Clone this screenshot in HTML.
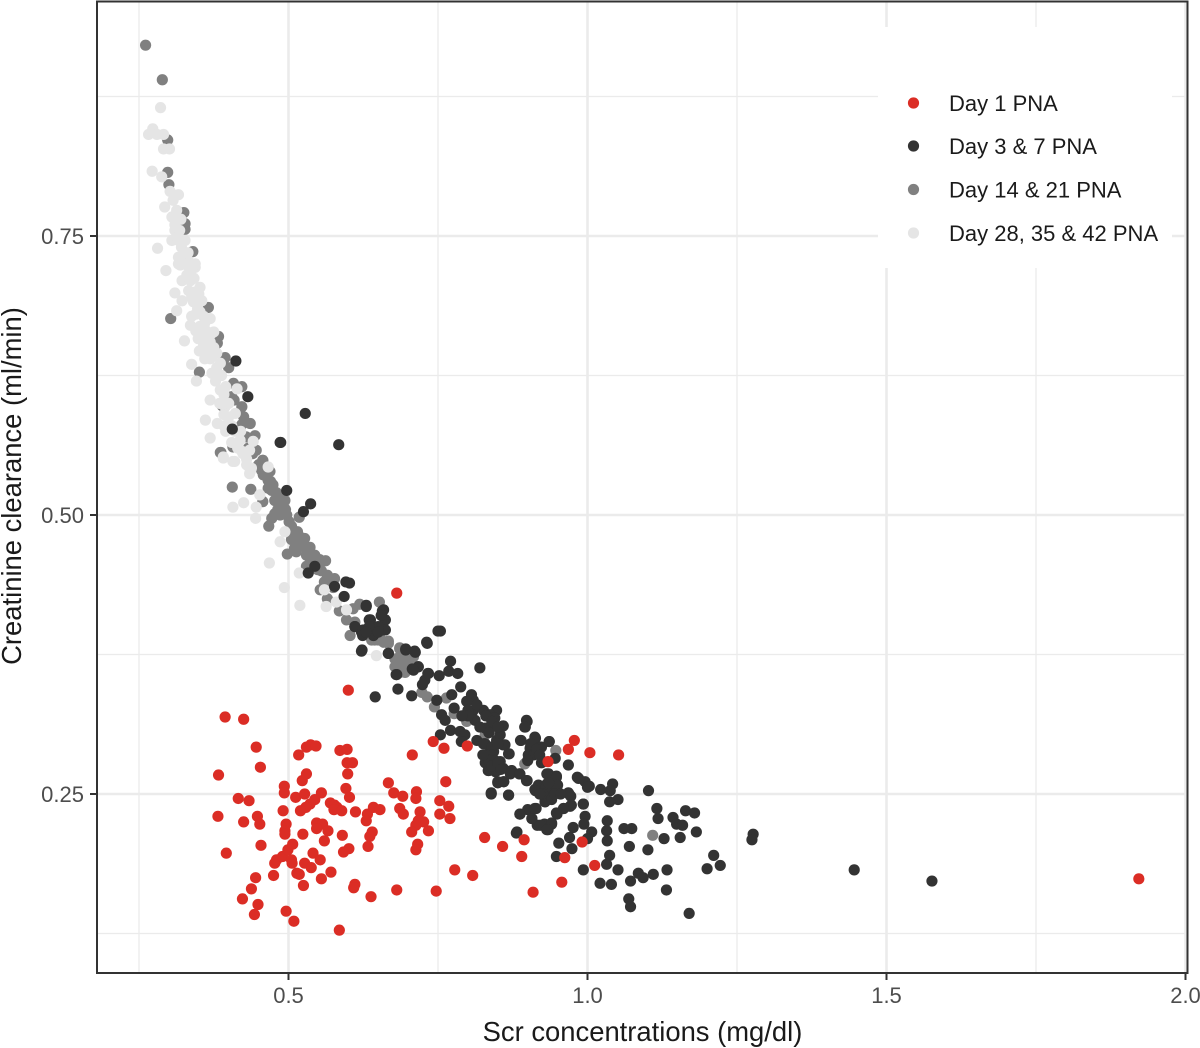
<!DOCTYPE html>
<html>
<head>
<meta charset="utf-8">
<title>Creatinine clearance vs Scr concentrations</title>
<style>
html,body{margin:0;padding:0;background:#fff;width:1200px;height:1048px;overflow:hidden}
svg{display:block}
text{font-family:"Liberation Sans",sans-serif}
</style>
</head>
<body>
<svg id="chart" width="1200" height="1048" viewBox="0 0 1200 1048" xmlns="http://www.w3.org/2000/svg"></svg>
<script>
const xTicks = [0.5, 1.0, 1.5, 2.0];
const xTickLabels = ["0.5", "1.0", "1.5", "2.0"];
const xMinor = [0.25, 0.75, 1.25, 1.75];
const yTicks = [0.25, 0.50, 0.75];
const yTickLabels = ["0.25", "0.50", "0.75"];
const yMinor = [0.125, 0.375, 0.625, 0.875];
const seriesNames = ["Day 1 PNA", "Day 3 & 7 PNA", "Day 14 & 21 PNA", "Day 28, 35 & 42 PNA"];

const day1X = [.394,.425,.446,.453,.383,.416,.434,.382,.448,.425,.452,.454,.396,.445,.438,.423,.449,.443,.496,.509,.585,.475,.477,.480,.490,.499,.507,.505,.506,.514,.518,.527,.538,.525,.541,.553,.571,.555,.611,.609,.638,.681,.747,.778,.808,.496,.494,.494,.524,.491,.493,.493,.512,.527,.555,.544,.536,.529,.520,.523,.530,.517,.530,.537,.546,.586,.598,.598,.607,.599,.596,.602,.570,.577,.581,.576,.589,.612,.632,.642,.653,.630,.547,.557,.547,.566,.560,.590,.640,.636,.633,.601,.592,.667,.676,.691,.686,.692,.714,.713,.720,.717,.726,.713,.706,.734,.716,.713,.753,.768,.753,.770,.763,.707,.742,.760,.799,.681,.600,.978,.968,1.004,1.052,.934,.828,.858,.894,.890,.962,.991,1.012,.957,.909,1.922];
const day1Y = [.319,.317,.292,.274,.267,.246,.244,.230,.230,.225,.223,.204,.197,.175,.165,.156,.151,.142,.145,.136,.128,.177,.188,.191,.194,.200,.205,.191,.188,.179,.178,.188,.184,.168,.197,.191,.180,.174,.169,.166,.158,.164,.163,.182,.177,.223,.217,.214,.214,.235,.257,.251,.247,.250,.251,.245,.241,.238,.235,.262,.268,.285,.292,.294,.293,.289,.290,.278,.278,.268,.255,.247,.242,.240,.238,.236,.235,.234,.232,.238,.236,.226,.224,.223,.219,.217,.208,.213,.216,.212,.203,.201,.198,.260,.251,.248,.237,.232,.252,.246,.234,.226,.225,.222,.216,.217,.205,.200,.244,.239,.232,.228,.261,.285,.297,.291,.293,.430,.343,.298,.290,.287,.285,.279,.211,.203,.209,.194,.193,.207,.186,.171,.162,.174];

const day37X = [1.102,1.042,1.038,1.022,1.003,.996,.983,.968,1.051,1.037,.993,.972,.968,1.116,1.118,1.164,1.179,1.143,1.149,1.159,1.182,1.155,1.128,1.074,1.061,1.033,1.032,1.033,1.070,1.101,1.037,1.032,1.051,1.133,1.110,1.085,1.093,1.072,1.021,1.040,1.132,1.069,1.072,1.170,1.211,1.222,1.200,1.277,1.275,.996,.994,1.007,1.000,.976,.970,.952,.974,.948,.993,.881,.971,.960,.949,.887,.900,.914,.907,.916,.928,.934,.940,.929,.940,.950,.948,.935,.912,.918,.932,.938,.926,.839,.868,.850,.860,.899,.886,.873,.871,.854,.843,.832,.834,.846,.868,.859,.848,.843,.829,.834,.889,.913,.936,.921,.904,.901,.926,.946,.896,.899,.859,.843,.754,.732,.712,.696,.622,.667,.659,.662,.637,.641,.645,.662,.622,.611,.630,.717,.707,.680,.771,.768,.783,.820,.752,.734,.728,.724,.683,.645,.706,.788,.773,.748,.777,.756,.762,.806,.809,.798,.808,.812,.826,.848,.837,.829,.845,.859,.754,.771,.787,.795,.789,.815,.826,.854,.862,.869,.840,.840,.898,.895,.888,.912,.936,.923,.904,.923,.829,.835,.849,.859,.873,.887,.898,.850,.860,.839,.868,.932,.948,.948,.913,.929,.887,.907,.912,.969,.973,.960,.948,.940,.921,.932,.993,.985,1.0,.882,.486,.584,.497,.537,.525,.596,.602,.577,.593,.630,.657,.661,.635,.611,.625,.624,.642,.642,.660,.623,.667,.696,.711,.731,.750,.717,.709,.681,.733,.544,.533,.412,.432,.528,.406,.487,1.446,1.576,.83,.84,.835,.82,.85,.85,.83,.845,.835,.84,.85,.855,.825,.80,.815,.80,.79,.905,.91,.915,.92,.90,.93,.925,.94,.935,.92,.945,.955,.65,.635,.65,.63,.655];
const day37Y = [.253,.259,.253,.254,.257,.261,.265,.276,.245,.243,.241,.248,.251,.237,.228,.235,.233,.229,.223,.222,.216,.211,.210,.219,.219,.226,.217,.208,.203,.200,.195,.187,.182,.182,.178,.179,.175,.172,.170,.169,.164,.156,.149,.143,.195,.186,.183,.214,.209,.230,.223,.216,.210,.220,.211,.206,.201,.194,.182,.215,.239,.237,.232,.232,.236,.237,.228,.222,.223,.218,.223,.243,.249,.258,.266,.268,.254,.258,.259,.253,.255,.250,.249,.260,.261,.262,.268,.271,.268,.279,.274,.278,.271,.270,.286,.294,.298,.288,.295,.286,.298,.300,.297,.292,.291,.285,.279,.282,.310,.315,.311,.313,.396,.385,.377,.379,.378,.376,.415,.406,.406,.400,.394,.397,.395,.400,.418,.364,.362,.357,.369,.360,.358,.363,.356,.358,.352,.348,.344,.337,.338,.346,.339,.334,.327,.321,.316,.339,.334,.333,.324,.316,.325,.325,.321,.309,.318,.311,.303,.307,.306,.303,.297,.298,.295,.303,.294,.286,.292,.285,.316,.310,.298,.301,.297,.292,.285,.278,.278,.271,.271,.273,.271,.268,.262,.261,.261,.251,.249,.268,.265,.258,.253,.243,.232,.228,.237,.250,.240,.237,.233,.224,.222,.218,.241,.264,.256,.216,.565,.563,.522,.510,.503,.440,.439,.436,.427,.419,.414,.406,.406,.400,.397,.392,.398,.392,.397,.379,.376,.380,.378,.386,.396,.364,.361,.357,.358,.454,.448,.638,.606,.591,.577,.565,.182,.172,.32,.315,.305,.31,.31,.295,.285,.28,.28,.275,.278,.272,.285,.325,.33,.32,.32,.295,.285,.29,.285,.28,.255,.25,.245,.26,.25,.25,.25,.40,.40,.395,.395,.41];

const day1421X = [.723,.732,.744,.764,.777,.798,.843,.829,.895,.947,.678,.686,.700,.681,.692,.703,.686,.695,.709,.686,.659,.667,.650,.639,.386,.407,.457,.406,.437,.457,.467,.458,.466,.474,.466,.486,.494,.477,.477,.486,.497,.472,.501,.518,.511,.527,.516,.498,.513,.536,.530,.544,.552,.562,.530,.549,.565,.577,.565,.553,.585,.597,.611,.603,.619,.608,.652,.644,.655,.667,.686,.681,.692,.703,.689,.678,.366,.303,.383,.381,.394,.400,.351,.408,.422,.405,.409,.389,.422,.425,.436,.422,.444,.429,.409,.387,.446,.457,.458,.469,.261,.289,.298,.298,.300,.325,.314,.327,.327,.340,1.109,.45,.455,.462,.47,.472,.48,.484,.49,.482,.495,.505,.515,.52,.505,.51,.522,.53,.535,.54,.55,.555,.56,.57,.575,.433,.44];
const day1421Y = [.341,.337,.328,.336,.322,.315,.306,.303,.277,.289,.371,.373,.371,.365,.365,.367,.359,.359,.373,.380,.386,.385,.388,.388,.556,.561,.549,.525,.523,.512,.490,.536,.531,.527,.524,.516,.513,.513,.501,.500,.500,.497,.494,.498,.482,.479,.475,.465,.467,.471,.464,.464,.460,.459,.454,.451,.446,.443,.425,.433,.414,.406,.404,.392,.420,.416,.422,.388,.388,.387,.381,.370,.370,.373,.364,.364,.686,.676,.660,.654,.641,.632,.628,.618,.615,.606,.603,.598,.597,.588,.582,.581,.571,.570,.561,.556,.558,.549,.536,.539,.921,.890,.836,.807,.796,.771,.769,.761,.756,.736,.213,.545,.54,.535,.53,.522,.52,.51,.505,.505,.505,.49,.485,.48,.478,.47,.472,.47,.462,.455,.455,.45,.44,.44,.435,.56,.555];

const day283542X = [.647,.407,.425,.446,.445,.468,.493,.519,.518,.486,.494,.560,.563,.580,.597,.438,.435,.452,.466,.407,.391,.424,.435,.295,.322,.319,.344,.336,.352,.310,.333,.322,.341,.355,.313,.338,.336,.358,.369,.352,.375,.363,.349,.369,.326,.351,.380,.369,.338,.386,.372,.388,.346,.386,.369,.414,.394,.411,.400,.361,.381,.392,.369,.419,.441,.422,.410,.391,.436,.286,.273,.266,.280,.291,.291,.301,.272,.288,.302,.316,.307,.293,.313,.305,.310,.305,.327,.316,.281,.321,.316,.324,.332,.344,.316,.330,.325,.332,.338,.330,.342,.345,.338,.35,.348,.345,.352,.36,.345,.355,.362,.37,.358,.365,.375,.36,.372,.38,.378,.392,.395,.40,.385,.392,.405,.395,.41,.42,.405,.415,.425,.43,.43,.31,.318,.32];
const day283542Y = [.374,.507,.511,.507,.497,.457,.435,.419,.448,.476,.485,.433,.418,.422,.415,.542,.537,.518,.543,.548,.552,.555,.558,.719,.710,.724,.722,.710,.704,.699,.701,.692,.691,.692,.683,.678,.670,.678,.676,.669,.664,.661,.658,.655,.656,.647,.645,.640,.635,.636,.627,.625,.620,.612,.603,.613,.597,.591,.588,.585,.582,.580,.569,.567,.566,.557,.548,.551,.539,.865,.846,.841,.841,.841,.828,.828,.808,.803,.790,.787,.782,.776,.773,.767,.755,.746,.746,.746,.739,.740,.731,.731,.728,.725,.725,.724,.735,.735,.72,.715,.712,.70,.695,.698,.685,.68,.682,.672,.665,.66,.665,.662,.652,.648,.650,.64,.642,.632,.62,.608,.615,.60,.6,.59,.58,.575,.575,.575,.565,.56,.555,.55,.545,.76,.755,.765];

const NS = "http://www.w3.org/2000/svg";
const svg = document.getElementById("chart");
const panel = {left: 97, right: 1187.5, top: 1.5, bottom: 973};
const scaleX = v => 288.5 + 598 * (v - 0.5);
const scaleY = v => 794 - 1116 * (v - 0.25);
const colors = {day1: "#db2d25", day37: "#333333", day14: "#808080", day28: "#e5e5e5"};

function make(tag, attrs, parent) {
  const el = document.createElementNS(NS, tag);
  for (const k in attrs) el.setAttribute(k, attrs[k]);
  (parent || svg).appendChild(el);
  return el;
}

const grid = make("g", {});


xMinor.forEach(v => {
  const l = make("line", {x1: scaleX(v), x2: scaleX(v), y1: panel.top, y2: panel.bottom, stroke: "#ebebeb", "stroke-width": 1.3}, grid);
  
  
});
yMinor.forEach(v => {
  const l = make("line", {x1: panel.left, x2: panel.right, y1: scaleY(v), y2: scaleY(v), stroke: "#ebebeb", "stroke-width": 1.3}, grid);
  
  
});
xTicks.forEach(v => {
  const l = make("line", {x1: scaleX(v), x2: scaleX(v), y1: panel.top, y2: panel.bottom, stroke: "#ebebeb", "stroke-width": 2.6}, grid);
  
  
});
yTicks.forEach(v => {
  const l = make("line", {x1: panel.left, x2: panel.right, y1: scaleY(v), y2: scaleY(v), stroke: "#ebebeb", "stroke-width": 2.6}, grid);
  
  
});

function drawSeries(xs, ys, color, name) {
  const g = make("g", {fill: color});
  
  
  xs.forEach((x, i) => {
    const c = make("circle", {cx: scaleX(x), cy: scaleY(ys[i]), r: 5.6}, g);
    
    
  });
}
drawSeries(day1421X, day1421Y, colors.day14, "series-day-14-21");
drawSeries(day283542X, day283542Y, colors.day28, "series-day-28-35-42");
drawSeries(day37X, day37Y, colors.day37, "series-day-3-7");
drawSeries(day1X, day1Y, colors.day1, "series-day-1");

const legendBg = make("rect", {x: 878, y: 27, width: 294, height: 241, fill: "#ffffff"});



const frame = make("rect", {x: panel.left, y: panel.top, width: panel.right - panel.left, height: panel.bottom - panel.top, fill: "none", stroke: "#333333", "stroke-width": 2});



xTicks.forEach((v, i) => {
  const t = make("line", {x1: scaleX(v), x2: scaleX(v), y1: panel.bottom, y2: panel.bottom + 7, stroke: "#333333", "stroke-width": 2});
  
  
  const lab = make("text", {x: scaleX(v), y: 1003, "text-anchor": "middle", "font-size": 22, fill: "#4d4d4d"});
  
  
  lab.textContent = xTickLabels[i];
});
yTicks.forEach((v, i) => {
  const t = make("line", {x1: panel.left - 7, x2: panel.left, y1: scaleY(v), y2: scaleY(v), stroke: "#333333", "stroke-width": 2});
  
  
  const lab = make("text", {x: 84, y: scaleY(v) + 8, "text-anchor": "end", "font-size": 22, fill: "#4d4d4d"});
  
  
  lab.textContent = yTickLabels[i];
});

const xTitle = make("text", {x: 642.5, y: 1041, "text-anchor": "middle", "font-size": 27.4, fill: "#1a1a1a"});


xTitle.textContent = "Scr concentrations (mg/dl)";

const yTitle = make("text", {x: 0, y: 0, transform: "translate(21,486) rotate(-90)", "text-anchor": "middle", "font-size": 27.4, fill: "#1a1a1a"});


yTitle.textContent = "Creatinine clearance (ml/min)";

const legendColors = [colors.day1, colors.day37, colors.day14, colors.day28];
const legendRowY = [103, 146, 189.5, 233];
seriesNames.forEach((n, i) => {
  const g = make("g", {});
  
  
  const dot = make("circle", {cx: 913.5, cy: legendRowY[i], r: 5.6, fill: legendColors[i]}, g);
  
  
  const t = make("text", {x: 949, y: legendRowY[i] + 8, "font-size": 22, fill: "#1a1a1a"}, g);
  
  
  t.textContent = n;
});
</script>
</body>
</html>
